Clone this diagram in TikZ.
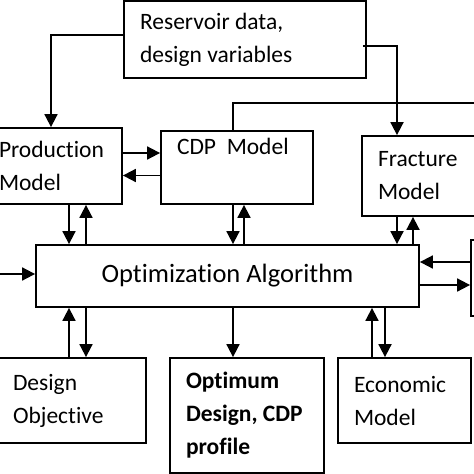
\documentclass[tikz,border=0pt]{standalone}
\usepackage{fontspec}
\setmainfont{Carlito}[Ligatures=NoCommon]
\usetikzlibrary{arrows.meta, positioning}

\begin{document}
\begin{tikzpicture}[
  x=1pt, y=1pt,
  box/.style={
    draw, line width=1.8pt, inner xsep=16pt, inner ysep=0pt,
    align=flush left, font=\fontsize{23.5}{33}\selectfont
  },
  arrow/.style={-{Triangle[length=13pt, width=13pt]}, line width=1.8pt},
  plain/.style={line width=1.8pt}
]
\clip (0,0) rectangle (474,-474);

% Inputs
\node[box, minimum width=242pt, minimum height=77pt, text width=210pt] (res) at (245,-39.5)
  {Reservoir data,\\design variables};

% Models
\node[box, minimum width=139pt, minimum height=76pt, text width=107pt] (prod) at (52.5,-166)
  {Production\\Model};
\node[box, minimum width=152pt, minimum height=73pt, text width=120pt] (cdp) at (237,-167.5)
  {CDP\ \ Model\\\strut};
\node[box, minimum width=128pt, minimum height=80pt, text width=96pt] (frac) at (426,-176)
  {Fracture\\Model};

% Optimizer
\node[box, minimum width=383pt, minimum height=62pt, align=center,
  font=\fontsize{26.5}{32}\selectfont] (opt) at (227.5,-276)
  {Optimization Algorithm};
\node[box, minimum width=60pt, minimum height=76pt] (side) at (501,-278) {};
\coordinate (inp) at (-5,-274);
\coordinate (cdpout) at (480,-103);

% Outputs
\node[box, minimum width=149pt, minimum height=85pt, text width=117pt] (des) at (71.5,-400.5)
  {Design\\Objective};
\node[box, minimum width=154pt, minimum height=115pt, text width=122pt] (optm) at (247,-415.5)
  {\bfseries Optimum\\\bfseries Design, CDP\\\bfseries profile};
\node[box, minimum width=133pt, minimum height=85pt, text width=101pt] (econ) at (404.5,-400.5)
  {Economic\\Model};

% Data feeds
\draw[arrow] ([yshift=4.5pt]res.west) -| ([xshift=-1.5pt]prod.north);
\draw[arrow] ([xshift=-4pt,yshift=-6.5pt]res.east) -| ([xshift=-29pt]frac.north);
\draw[plain] ([xshift=-4pt]cdp.north) |- (cdpout);

% Production <-> CDP
\draw[arrow] ([yshift=13pt]prod.east) -- ([yshift=13pt]prod.east -| cdp.west);
\draw[arrow] ([yshift=-8pt]cdp.west) -- ([yshift=-8pt]cdp.west -| prod.east);

% Models <-> optimizer
\draw[arrow] ([xshift=16.5pt]prod.south) -- ([xshift=16.5pt]prod.south |- opt.north);
\draw[arrow] ([xshift=33.5pt]prod.south |- opt.north) -- ([xshift=33.5pt]prod.south);
\draw[arrow] ([xshift=-4pt]cdp.south) -- ([xshift=-4pt]cdp.south |- opt.north);
\draw[arrow] ([xshift=7pt]cdp.south |- opt.north) -- ([xshift=7pt]cdp.south);
\draw[arrow] ([xshift=-29pt]frac.south) -- ([xshift=-29pt]frac.south |- opt.north);
\draw[arrow] ([xshift=-13pt]frac.south |- opt.north) -- ([xshift=-13pt]frac.south);

% Optimizer <-> side block
\draw[arrow] ([yshift=14pt]opt.east -| side.west) -- ([yshift=14pt]opt.east);
\draw[arrow] ([yshift=-9pt]opt.east) -- ([yshift=-9pt]opt.east -| side.west);
\draw[arrow] (inp) -- (inp -| opt.west);

% Optimizer <-> outputs
\draw[arrow] ([xshift=-2.5pt]des.north) -- ([xshift=-2.5pt]des.north |- opt.south);
\draw[arrow] ([xshift=14.5pt]des.north |- opt.south) -- ([xshift=14.5pt]des.north);
\draw[arrow] ([xshift=-14pt]optm.north |- opt.south) -- ([xshift=-14pt]optm.north);
\draw[arrow] ([xshift=-32.5pt]econ.north) -- ([xshift=-32.5pt]econ.north |- opt.south);
\draw[arrow] ([xshift=-19.5pt]econ.north |- opt.south) -- ([xshift=-19.5pt]econ.north);

\end{tikzpicture}
\end{document}
